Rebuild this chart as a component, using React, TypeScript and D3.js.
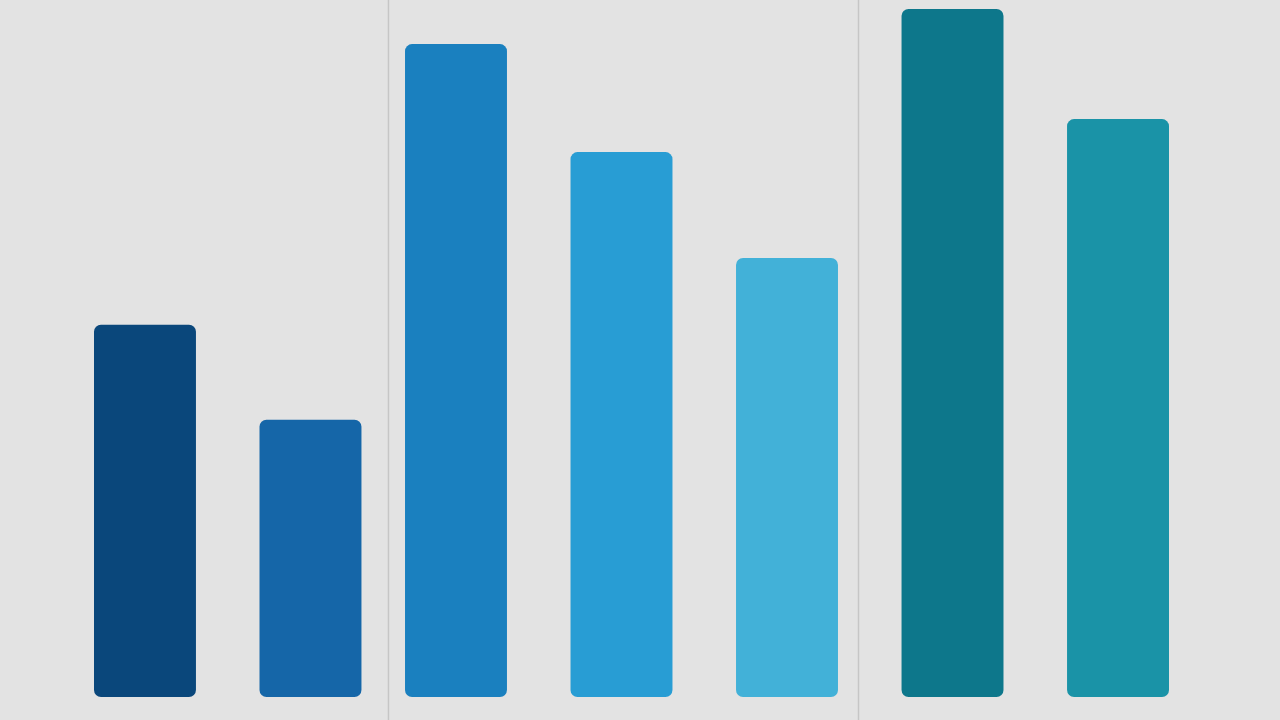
import React, { useEffect, useRef } from 'react';
import * as d3 from 'd3';

// bar data (relative heights, tallest = 100)
const barIds = ['a1', 'a2', 'b1', 'b2', 'b3', 'c1', 'c2'];
const barGroups = [0, 0, 1, 1, 1, 2, 2];
const barValues = [54.1, 40.3, 94.9, 79.2, 63.8, 100, 84.0];
const barColors = ['#0a477b', '#1566a8', '#1a80bf', '#289dd4', '#42b1d8', '#0d778b', '#1a93a7'];
// divider lines, in bar-slot units along the band scale
const dividerSlots = [1.9, 4.74];

const WIDTH = 1280;
const HEIGHT = 720;
const BG = '#e3e3e3';

export default function App() {
  const svgRef = useRef<SVGSVGElement>(null);

  useEffect(() => {
    if (!svgRef.current) return;
    const svg = d3.select(svgRef.current);
    svg.selectAll('*').remove();

    svg.append('rect')
      .attr('width', WIDTH)
      .attr('height', HEIGHT)
      .attr('fill', BG);

    const x = d3.scaleBand<string>()
      .domain(barIds)
      .range([74, 1169])
      .paddingInner(0.384)
      .paddingOuter(0);

    const y = d3.scaleLinear()
      .domain([0, 100])
      .range([697, 9]);

    // first group sits a little further right than the even spacing
    const groupNudge = (g: number) => (g === 0 ? 20 : 0);
    const barX = (i: number) => (x(barIds[i]) || 0) + groupNudge(barGroups[i]);
    const slotX = (s: number) => (x(barIds[0]) || 0) + s * x.step();

    svg.selectAll('line.divider')
      .data(dividerSlots)
      .enter()
      .append('line')
      .attr('class', 'divider')
      .attr('x1', d => slotX(d))
      .attr('x2', d => slotX(d))
      .attr('y1', 0)
      .attr('y2', HEIGHT)
      .attr('stroke', '#c6c6c6')
      .attr('stroke-width', 1.5);

    svg.selectAll('rect.bar')
      .data(barValues)
      .enter()
      .append('rect')
      .attr('class', 'bar')
      .attr('x', (d, i) => barX(i))
      .attr('y', d => y(d))
      .attr('width', x.bandwidth())
      .attr('height', d => y(0) - y(d))
      .attr('rx', 7)
      .attr('ry', 7)
      .attr('fill', (d, i) => barColors[i]);
  }, []);

  return (
    <svg
      ref={svgRef}
      width={WIDTH}
      height={HEIGHT}
      style={{ position: 'fixed', left: 0, top: 0, display: 'block' }}
    />
  );
}
